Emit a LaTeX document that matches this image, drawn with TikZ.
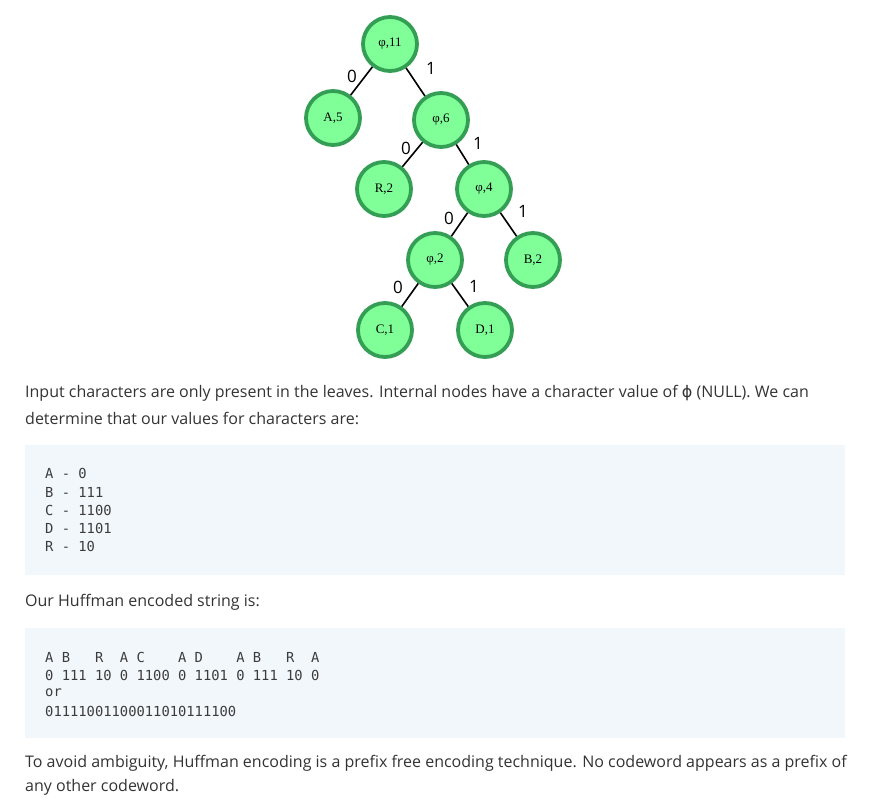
\documentclass[tikz,border=0pt]{standalone}
\usepackage{fontspec}
\setmainfont{Open Sans}
\newfontfamily\nodefont{Liberation Serif}
\newfontfamily\symfont{DejaVu Sans}
\setmonofont{DejaVu Sans Mono}
\newcommand\hs{\phantom{0}}
\begin{document}
\begin{tikzpicture}[x=1pt,y=-1pt,
  tn/.style={circle,draw={rgb,255:red,52;green,158;blue,84},line width=3.8pt,fill={rgb,255:red,128;green,255;blue,153},minimum size=54pt,inner sep=0pt,font=\nodefont\fontsize{13}{13}\selectfont},
  el/.style={font=\fontsize{17}{17}\selectfont},
  para/.style={anchor=west,inner sep=0pt,text={rgb,255:red,51;green,51;blue,51},font=\fontsize{16}{16}\selectfont},
  code/.style={anchor=west,inner sep=0pt,text={rgb,255:red,60;green,60;blue,60},font=\ttfamily\fontsize{13.8}{13.8}\selectfont},
  box/.style={fill={rgb,255:red,242;green,247;blue,252},draw=none}]
\useasboundingbox (0,0) rectangle (891,809);
\node[tn] (r) at (390,44) {φ,11};
\node[tn] (a) at (333,118) {A,5};
\node[tn] (p6) at (441,120) {φ,6};
\node[tn] (rr) at (384,189) {R,2};
\node[tn] (p4) at (484,189) {φ,4};
\node[tn] (p2) at (435,260) {φ,2};
\node[tn] (b) at (533,260) {B,2};
\node[tn] (c) at (385,330) {C,1};
\node[tn] (d) at (485,330) {D,1};
\foreach \u/\v in {r/a,r/p6,p6/rr,p6/p4,p4/p2,p4/b,p2/c,p2/d}
  \draw[line width=1.6pt] (\u) -- (\v);
\node[el] (l1) at (352,76) {0};
\node[el] (l2) at (431,68) {1};
\node[el] (l3) at (406,148) {0};
\node[el] (l4) at (478,143) {1};
\node[el] (l5) at (449,218) {0};
\node[el] (l6) at (523,211) {1};
\node[el] (l7) at (398,287) {0};
\node[el] (l8) at (474,286) {1};
\node[para] (t1) at (25,393) {Input characters are only present in the leaves. Internal nodes have a character value of {\symfont ϕ} (NULL). We can};
\node[para] (t2) at (25,418) {determine that our values for characters are:};
\path[box] (25,445) rectangle (845,575);
\node[code] (c1) at (45,473) {A\hs-\hs0};
\node[code] (c2) at (45,492) {B\hs-\hs111};
\node[code] (c3) at (45,510) {C\hs-\hs1100};
\node[code] (c4) at (45,528) {D\hs-\hs1101};
\node[code] (c5) at (45,546) {R\hs-\hs10};
\node[para] (t3) at (25,602) {Our Huffman encoded string is:};
\path[box] (25,628) rectangle (845,738);
\node[code] (d1) at (45,657) {A\hs B\hs\hs\hs R\hs\hs A\hs C\hs\hs\hs\hs A\hs D\hs\hs\hs\hs A\hs B\hs\hs\hs R\hs\hs A};
\node[code] (d2) at (45,675) {0\hs111\hs10\hs0\hs1100\hs0\hs1101\hs0\hs111\hs10\hs0};
\node[code] (d3) at (45,693) {or};
\node[code] (d4) at (45,711) {01111001100011010111100};
\node[para] (t4) at (25,763) {To avoid ambiguity, Huffman encoding is a prefix free encoding technique. No codeword appears as a prefix of};
\node[para] (t5) at (25,787) {any other codeword.};
\end{tikzpicture}
\end{document}
